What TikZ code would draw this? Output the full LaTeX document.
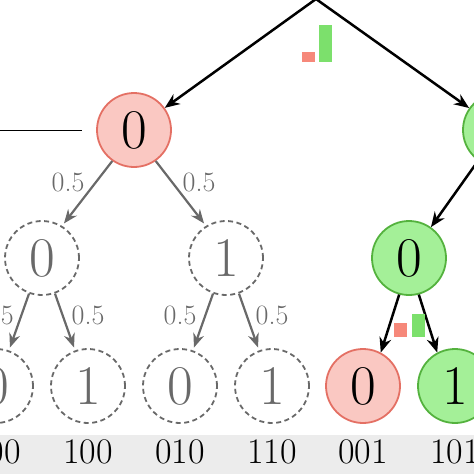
\documentclass[tikz,border=0pt]{standalone}
\usepackage{fontspec}
\usetikzlibrary{arrows.meta}
\definecolor{rfill}{RGB}{250,200,194}
\definecolor{rdraw}{RGB}{228,112,100}
\definecolor{gfill}{RGB}{164,240,152}
\definecolor{gdraw}{RGB}{84,178,62}
\definecolor{rbar}{RGB}{246,136,122}
\definecolor{gbar}{RGB}{124,224,108}
\definecolor{dgray}{RGB}{105,105,105}
\definecolor{strip}{RGB}{236,236,236}
\begin{document}
\begin{tikzpicture}[x=1pt,y=-1pt,
  base/.style={circle,minimum size=74pt,inner sep=0pt,line width=1.8pt,font=\fontsize{56}{56}\selectfont},
  rednode/.style={base,draw=rdraw,fill=rfill},
  greennode/.style={base,draw=gdraw,fill=gfill},
  ghost/.style={base,draw=dgray,dash pattern=on 5pt off 3.5pt,text=dgray},
  blk/.style={line width=2.5pt,-{Stealth[length=15pt,width=12pt]}},
  gry/.style={line width=2.2pt,draw=dgray,-{Stealth[length=14pt,width=11pt]},shorten >=3pt},
  prob/.style={text=dgray,font=\fontsize{28}{28}\selectfont,inner sep=0pt},
  code/.style={font=\fontsize{36}{36}\selectfont,inner sep=0pt}]
\useasboundingbox (0,0) rectangle (474,474);
\fill[strip] (0,435) rectangle (474,474);
% nodes
\coordinate (root) at (316,-1);
\node[rednode] (a) at (134,130) {0};
\node[greennode] (b) at (500,130) {};
\node[ghost] (c) at (42,258) {0};
\node[ghost] (d) at (226,258) {1};
\node[greennode] (e) at (409,258) {0};
\node[ghost] (f) at (-4,386) {0};
\node[ghost] (g) at (88,386) {1};
\node[ghost] (h) at (180,386) {0};
\node[ghost] (i) at (272,386) {1};
\node[rednode] (j) at (363,386) {0};
\node[greennode] (k) at (455,386) {1};
% line at left
\coordinate (l0) at (0,130);
\coordinate (l1) at (82,130);
\draw[line width=0.8pt] (l0) -- (l1);
% arrows
\draw[blk] (root) -- (a);
\draw[blk] (root) -- (b);
\draw[blk] (b) -- (e);
\draw[blk] (e.-105) -- (j.62);
\draw[blk] (e.-75) -- (k.118);
\draw[gry] (a.-125) -- (c.58);
\draw[gry] (a.-55) -- (d.122);
\draw[gry] (c.-110) -- (f.70);
\draw[gry] (c.-70) -- (g.110);
\draw[gry] (d.-110) -- (h.70);
\draw[gry] (d.-70) -- (i.110);
% probabilities
\node[prob] (p1) at (68,182) {0.5};
\node[prob] (p2) at (199,182) {0.5};
\node[prob,anchor=east] (p3) at (14,315) {0.5};
\node[prob] (p4) at (88,315) {0.5};
\node[prob] (p5) at (180,315) {0.5};
\node[prob] (p6) at (272,315) {0.5};
% bars
\fill[rbar] (302,52) rectangle (315,62);
\fill[gbar] (319,25) rectangle (332,62);
\fill[rbar] (394,323) rectangle (407,337);
\fill[gbar] (412,314) rectangle (425,337);
% codes
\node[code] (c0) at (-4,452) {000};
\node[code] (c1) at (88,452) {100};
\node[code] (c2) at (180,452) {010};
\node[code] (c3) at (272,452) {110};
\node[code] (c4) at (363,452) {001};
\node[code] (c5) at (455,452) {101};
\end{tikzpicture}
\end{document}
